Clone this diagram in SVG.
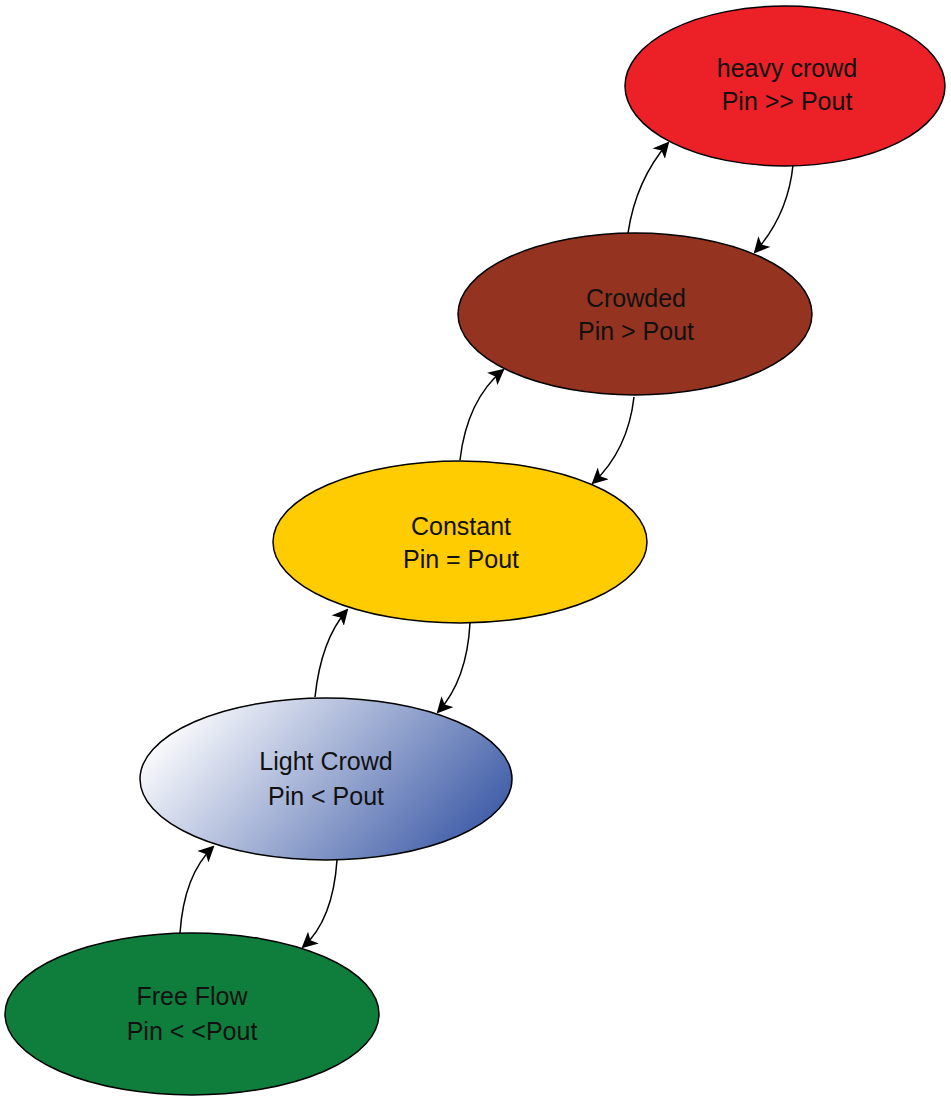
<svg xmlns="http://www.w3.org/2000/svg" width="951" height="1102" viewBox="0 0 951 1102">
<defs>
<marker id="ah2" markerWidth="16" markerHeight="16" refX="14" refY="8" orient="auto" markerUnits="userSpaceOnUse" viewBox="0 0 16 16"><path d="M0,0 L16,8 L0,16 L4,8 z" fill="#000"/></marker>
<linearGradient id="blue" x1="0" y1="0.3" x2="1" y2="0.7"><stop offset="0" stop-color="#ffffff"/><stop offset="1" stop-color="#3c5aa6"/></linearGradient>
</defs>
<style>
ellipse{stroke:#000;stroke-width:1.5}
text{font-family:"Liberation Sans",Arial,sans-serif;font-size:25px;text-anchor:middle;fill:#111}
.c path{fill:none;stroke:#000;stroke-width:1.5;marker-end:url(#ah2)}
</style>
<rect width="951" height="1102" fill="#fff"/>
<g id="heavy"><ellipse cx="785" cy="86" rx="160" ry="80" fill="#ec2027"/><text x="787" y="77">heavy crowd</text><text x="787" y="110">Pin &gt;&gt; Pout</text></g>
<g id="crowded"><ellipse cx="635" cy="314" rx="177" ry="81" fill="#943420"/><text x="636" y="307">Crowded</text><text x="636" y="340">Pin &gt; Pout</text></g>
<g id="constant"><ellipse cx="460" cy="542" rx="187" ry="81" fill="#fecc00"/><text x="461" y="535">Constant</text><text x="461" y="568">Pin = Pout</text></g>
<g id="light"><ellipse cx="326" cy="779" rx="186" ry="81" fill="url(#blue)"/><text x="326" y="770">Light Crowd</text><text x="326" y="805">Pin &lt; Pout</text></g>
<g id="free"><ellipse cx="192" cy="1014" rx="187" ry="81" fill="#0f7e3c"/><text x="192" y="1005">Free Flow</text><text x="192" y="1040">Pin &lt; &lt;Pout</text></g>
<g class="c">
<path d="M628,233 Q636,180 668,143"/>
<path d="M793,165 Q788,215 755,252"/>
<path d="M460,460 Q467,400 503,370"/>
<path d="M634,397 Q628,450 593,483"/>
<path d="M315,697 Q321,640 347,610"/>
<path d="M470,623 Q467,680 438,712"/>
<path d="M180,933 Q184,875 213,847"/>
<path d="M337,860 Q333,920 303,947"/>
</g>
</svg>
